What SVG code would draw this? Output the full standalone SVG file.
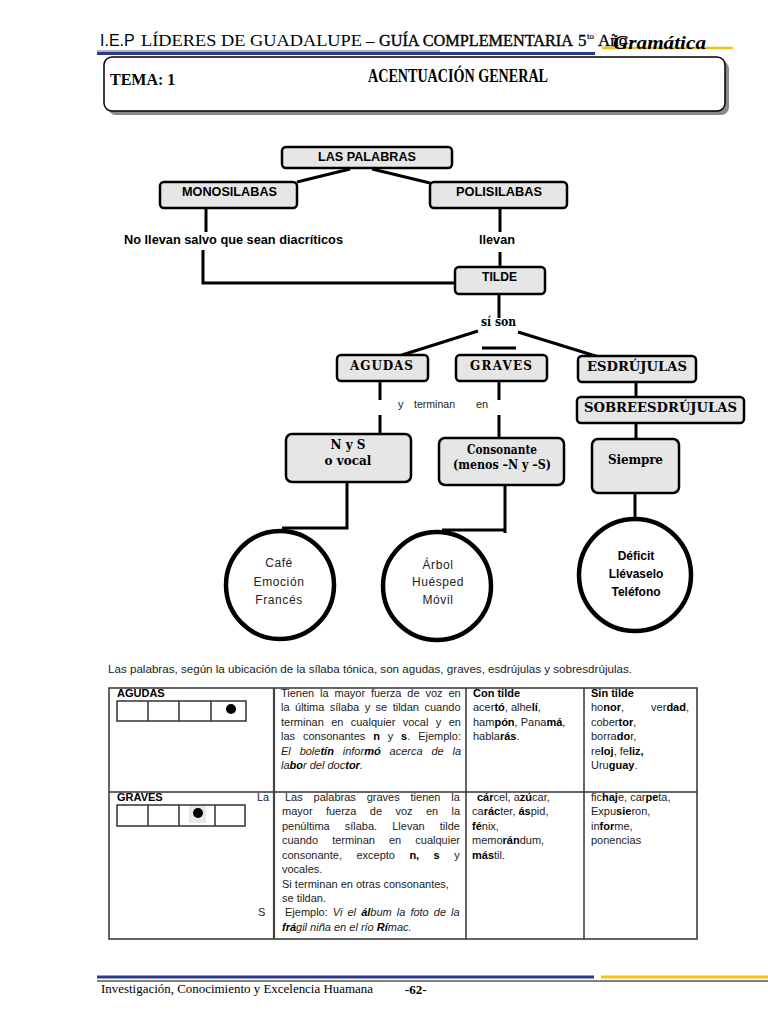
<svg xmlns="http://www.w3.org/2000/svg" width="768" height="1024" viewBox="0 0 768 1024">
<style>
.box{fill:#e6e6e6;stroke:#000;stroke-width:2.5}
.ln{stroke:#000;stroke-width:3;fill:none}
.sb{font-family:"Liberation Sans",Arial,sans-serif;font-weight:bold;font-size:12px;fill:#000}
.sf{font-family:"DejaVu Serif","Liberation Serif",serif;font-weight:bold;font-size:12px;fill:#000}
.ct{font-family:"Liberation Sans",Arial,sans-serif;font-size:12px;fill:#222;letter-spacing:0.6px}
.t{font-family:"Liberation Sans",Arial,sans-serif;font-size:11px;fill:#222}
.b{font-weight:bold;fill:#000}
.i{font-style:italic}
.tb{stroke:#333;stroke-width:1.5;fill:none}
.circ{fill:#fff;stroke:#000;stroke-width:4.5}
</style>
<rect width="768" height="1024" fill="#fff"/>

<!-- Header -->
<g id="header">
  <text x="100" y="46" font-family="Liberation Sans,Arial,sans-serif" font-size="16">I.E.P</text>
  <text x="141" y="46" font-family="Liberation Serif,serif" font-size="17" textLength="221" lengthAdjust="spacingAndGlyphs">LÍDERES DE GUADALUPE</text>
  <text x="366" y="46" font-family="Liberation Serif,serif" font-size="17">–</text>
  <text x="379" y="46" font-family="Liberation Serif,serif" font-size="17" stroke="#000" stroke-width="0.4" textLength="194" lengthAdjust="spacingAndGlyphs">GUÍA COMPLEMENTARIA</text>
  <text x="578" y="46" font-family="Liberation Serif,serif" font-size="17" stroke="#000" stroke-width="0.3">5</text>
  <text x="587" y="39" font-family="Liberation Serif,serif" font-size="9" stroke="#000" stroke-width="0.2">to</text>
  <text x="598" y="46" font-family="Liberation Serif,serif" font-size="17" stroke="#000" stroke-width="0.3">Año</text>
  <line x1="602" y1="48" x2="733" y2="48" stroke="#f2c21b" stroke-width="2.5"/>
  <text x="613" y="49" font-family="Liberation Serif,serif" font-size="19" font-weight="bold" font-style="italic" textLength="93" lengthAdjust="spacingAndGlyphs">Gramática</text>
  <line x1="97" y1="51" x2="440" y2="51" stroke="#9a9a9a" stroke-width="1.5"/>
  <line x1="97" y1="53.5" x2="595" y2="53.5" stroke="#2b3a8f" stroke-width="3"/>
  <rect x="108" y="61" width="621" height="54" rx="8" fill="#8a8a8a"/>
  <rect x="104" y="57" width="621" height="54" rx="8" fill="#fff" stroke="#000" stroke-width="1.5"/>
  <text x="110" y="85" font-family="Liberation Serif,serif" font-size="16" font-weight="bold">TEMA: 1</text>
  <text x="368" y="82" font-family="Liberation Serif,serif" font-size="19" font-weight="bold" textLength="180" lengthAdjust="spacingAndGlyphs">ACENTUACIÓN GENERAL</text>
</g>

<!-- Connectors -->
<g id="connectors" class="ln">
  <path d="M350,169 L297,182"/>
  <path d="M372,169 L430,183"/>
  <path d="M206,208 V232"/>
  <path d="M203,250 V283 H455"/>
  <path d="M500,208 V232"/>
  <path d="M500,252 V268"/>
  <path d="M499,294 V318"/>
  <path d="M478,331 L402,355"/>
  <path d="M518,332 L602,358"/>
  <path d="M482,348 H516"/>
  <path d="M380,381 V400"/>
  <path d="M380,415 V438"/>
  <path d="M499,381 V400"/>
  <path d="M499,415 V438"/>
  <path d="M636,382 V397"/>
  <path d="M636,423 V440"/>
  <path d="M347,482 V528 H282"/>
  <path d="M505,485 V533 M505,530 H442"/>
  <path d="M635,493 V520"/>
</g>

<!-- Nodes -->
<g id="n-palabras">
  <rect class="box" x="282" y="147" width="170" height="21" rx="4"/>
  <text class="sb" x="318" y="161" textLength="98" lengthAdjust="spacingAndGlyphs">LAS PALABRAS</text>
</g>
<g id="n-monosilabas">
  <rect class="box" x="160" y="182" width="137" height="26" rx="4"/>
  <text class="sb" x="182" y="196" textLength="95" lengthAdjust="spacingAndGlyphs">MONOSILABAS</text>
</g>
<g id="n-polisilabas">
  <rect class="box" x="430" y="182" width="137" height="26" rx="4"/>
  <text class="sb" x="456" y="196" textLength="86" lengthAdjust="spacingAndGlyphs">POLISILABAS</text>
</g>
<g id="l-nollevan">
  <text class="sb" x="124" y="244" textLength="219" lengthAdjust="spacingAndGlyphs">No llevan salvo que sean diacríticos</text>
</g>
<g id="l-llevan">
  <text class="sb" x="479" y="244" textLength="36" lengthAdjust="spacingAndGlyphs">llevan</text>
</g>
<g id="n-tilde">
  <rect class="box" x="455" y="267" width="90" height="27" rx="4"/>
  <text class="sb" x="482" y="281" textLength="35" lengthAdjust="spacingAndGlyphs">TILDE</text>
</g>
<g id="l-sison">
  <text class="sf" x="481" y="326" textLength="35" lengthAdjust="spacingAndGlyphs">sí son</text>
</g>
<g id="n-agudas">
  <rect class="box" x="337" y="355" width="91" height="26" rx="4"/>
  <text class="sf" x="350" y="370" textLength="63" lengthAdjust="spacing">AGUDAS</text>
</g>
<g id="n-graves">
  <rect class="box" x="456" y="355" width="91" height="26" rx="4"/>
  <text class="sf" x="470" y="370" textLength="62" lengthAdjust="spacing">GRAVES</text>
</g>
<g id="n-esdrujulas">
  <rect class="box" x="578" y="356" width="118" height="26" rx="4"/>
  <text class="sf" x="587" y="371" textLength="100" lengthAdjust="spacingAndGlyphs">ESDRÚJULAS</text>
</g>
<g id="n-sobreesdrujulas">
  <rect class="box" x="577" y="397" width="167" height="26" rx="4"/>
  <text class="sf" x="584" y="412" textLength="153" lengthAdjust="spacingAndGlyphs">SOBREESDRÚJULAS</text>
</g>
<g id="l-terminan">
  <text class="t" x="398" y="408" font-size="11.5">y</text>
  <text class="t" x="414" y="408" font-size="11.5" textLength="41" lengthAdjust="spacingAndGlyphs">terminan</text>
  <text class="t" x="476" y="408" font-size="11.5">en</text>
</g>
<g id="n-nys">
  <rect class="box" x="286" y="434" width="125" height="48" rx="6"/>
  <text class="sf" x="348" y="449" text-anchor="middle">N y S</text>
  <text class="sf" x="348" y="465" text-anchor="middle">o vocal</text>
</g>
<g id="n-consonante">
  <rect class="box" x="439" y="438" width="125" height="47" rx="6"/>
  <text class="sf" x="467" y="454" textLength="70" lengthAdjust="spacingAndGlyphs">Consonante</text>
  <text class="sf" x="453" y="469" textLength="98" lengthAdjust="spacingAndGlyphs">(menos –N y –S)</text>
</g>
<g id="n-siempre">
  <rect class="box" x="592" y="439" width="87" height="54" rx="6"/>
  <text class="sf" x="608" y="464" textLength="55" lengthAdjust="spacing">Siempre</text>
</g>
<g id="c-agudas">
  <circle class="circ" cx="280" cy="585" r="54"/>
  <text class="ct" x="279" y="567" text-anchor="middle">Café</text>
  <text class="ct" x="279" y="586" text-anchor="middle">Emoción</text>
  <text class="ct" x="279" y="604" text-anchor="middle">Francés</text>
</g>
<g id="c-graves">
  <circle class="circ" cx="437" cy="586" r="54"/>
  <text class="ct" x="438" y="569" text-anchor="middle">Árbol</text>
  <text class="ct" x="438" y="586" text-anchor="middle">Huésped</text>
  <text class="ct" x="438" y="604" text-anchor="middle">Móvil</text>
</g>
<g id="c-esdrujulas">
  <circle class="circ" cx="635" cy="575" r="56"/>
  <text class="sb" x="636" y="560" text-anchor="middle" font-size="11.5">Déficit</text>
  <text class="sb" x="636" y="578" text-anchor="middle" font-size="11.5">Llévaselo</text>
  <text class="sb" x="636" y="596" text-anchor="middle" font-size="11.5">Teléfono</text>
</g>

<!-- Table -->
<g id="table">
  <text class="t" x="108" y="673" textLength="524" lengthAdjust="spacingAndGlyphs">Las palabras, según la ubicación de la sílaba tónica, son agudas, graves, esdrújulas y sobresdrújulas.</text>
  <rect class="tb" x="109" y="688" width="588" height="251"/>
  <line class="tb" x1="109" y1="792" x2="697" y2="792"/>
  <line x1="274" y1="688" x2="274" y2="939" stroke="#444" stroke-width="2.2"/>
  <line class="tb" x1="466" y1="688" x2="466" y2="939"/>
  <line class="tb" x1="584" y1="688" x2="584" y2="939"/>

  <!-- AGUDAS row -->
  <text class="t b" x="117" y="697">AGUDAS</text>
  <g class="tb" stroke-width="1.2">
    <rect x="117" y="701" width="129" height="20"/>
    <line x1="148" y1="701" x2="148" y2="721"/>
    <line x1="179" y1="701" x2="179" y2="721"/>
    <line x1="211" y1="701" x2="211" y2="721"/>
  </g>
  <circle cx="231" cy="709" r="5" fill="#000"/>

  <text class="t" x="281" y="697" word-spacing="2.8">Tienen la mayor fuerza de voz en</text>
  <text class="t" x="281" y="711" word-spacing="2.4">la última sílaba y se tildan cuando</text>
  <text class="t" x="281" y="726" word-spacing="4.3">terminan en cualquier vocal y en</text>
  <text class="t" x="281" y="740" word-spacing="4.8">las consonantes <tspan class="b">n</tspan> y <tspan class="b">s</tspan>. Ejemplo:</text>
  <text class="t i" x="281" y="755" word-spacing="5.8">El bole<tspan class="b">tín</tspan> infor<tspan class="b">mó</tspan> acerca de la</text>
  <text class="t i" x="281" y="769">la<tspan class="b">bo</tspan>r del doc<tspan class="b">tor</tspan>.</text>

  <text class="t b" x="473" y="697">Con tilde</text>
  <text class="t" x="473" y="711">acer<tspan class="b">tó</tspan>, alhe<tspan class="b">lí</tspan>,</text>
  <text class="t" x="473" y="726">ham<tspan class="b">pón</tspan>, Pana<tspan class="b">má</tspan>,</text>
  <text class="t" x="473" y="740">habla<tspan class="b">rás</tspan>.</text>

  <text class="t b" x="591" y="697">Sin tilde</text>
  <text class="t" x="591" y="711" word-spacing="24">ho<tspan class="b">nor</tspan>, ver<tspan class="b">dad</tspan>,</text>
  <text class="t" x="591" y="726">cober<tspan class="b">tor</tspan>,</text>
  <text class="t" x="591" y="740">borra<tspan class="b">do</tspan>r,</text>
  <text class="t" x="591" y="755">re<tspan class="b">loj</tspan>, fe<tspan class="b">liz,</tspan></text>
  <text class="t" x="591" y="769">Uru<tspan class="b">guay</tspan>.</text>

  <!-- GRAVES row -->
  <text class="t b" x="117" y="801">GRAVES</text>
  <text class="t" x="257" y="801">La</text>
  <text class="t" x="258" y="916">S</text>
  <rect x="189" y="805" width="17" height="18" fill="#e8e8e8"/>
  <g class="tb" stroke-width="1.2">
    <rect x="117" y="805" width="128" height="21"/>
    <line x1="148" y1="805" x2="148" y2="826"/>
    <line x1="179" y1="805" x2="179" y2="826"/>
    <line x1="215" y1="805" x2="215" y2="826"/>
  </g>
  <circle cx="198" cy="813" r="5" fill="#000"/>

  <text class="t" x="285" y="801" word-spacing="7.8">Las palabras graves tienen la</text>
  <text class="t" x="282" y="815" word-spacing="10.3">mayor fuerza de voz en la</text>
  <text class="t" x="282" y="830" word-spacing="12">penúltima sílaba. Llevan tilde</text>
  <text class="t" x="282" y="844" word-spacing="11">cuando terminan en cualquier</text>
  <text class="t" x="282" y="859" word-spacing="11.4">consonante, excepto <tspan class="b">n, s</tspan> y</text>
  <text class="t" x="282" y="873">vocales.</text>
  <text class="t" x="282" y="888">Si terminan en otras consonantes,</text>
  <text class="t" x="282" y="902">se tildan.</text>
  <text class="t" x="285" y="916" word-spacing="2">Ejemplo: <tspan class="i">Vi el <tspan class="b">ál</tspan>bum la foto de la</tspan></text>
  <text class="t i" x="282" y="931"><tspan class="b">frá</tspan>gil niña en el río <tspan class="b">Rí</tspan>mac.</text>

  <text class="t" x="477" y="801"><tspan class="b">cár</tspan>cel, a<tspan class="b">zú</tspan>car,</text>
  <text class="t" x="472" y="815">ca<tspan class="b">rác</tspan>ter, <tspan class="b">ás</tspan>pid,</text>
  <text class="t" x="472" y="830"><tspan class="b">fé</tspan>nix,</text>
  <text class="t" x="472" y="844">memo<tspan class="b">rán</tspan>dum,</text>
  <text class="t" x="472" y="859"><tspan class="b">más</tspan>til.</text>

  <text class="t" x="591" y="801">fic<tspan class="b">haj</tspan>e, car<tspan class="b">pe</tspan>ta,</text>
  <text class="t" x="591" y="815">Expu<tspan class="b">sie</tspan>ron,</text>
  <text class="t" x="591" y="830">in<tspan class="b">for</tspan>me,</text>
  <text class="t" x="591" y="844">ponencias</text>
</g>

<!-- Footer -->
<g id="footer">
  <line x1="97" y1="977" x2="594" y2="977" stroke="#2b3a8f" stroke-width="3"/>
  <line x1="601" y1="977" x2="768" y2="977" stroke="#f2c21b" stroke-width="3"/>
  <line x1="97" y1="981" x2="768" y2="981" stroke="#000" stroke-width="1.2"/>
  <text x="101" y="993" font-family="Liberation Serif,serif" font-size="12" textLength="272" lengthAdjust="spacingAndGlyphs">Investigación, Conocimiento y Excelencia Huamana</text>
  <text x="405" y="994" font-family="Liberation Serif,serif" font-size="13" font-weight="bold">-62-</text>
</g>
</svg>
